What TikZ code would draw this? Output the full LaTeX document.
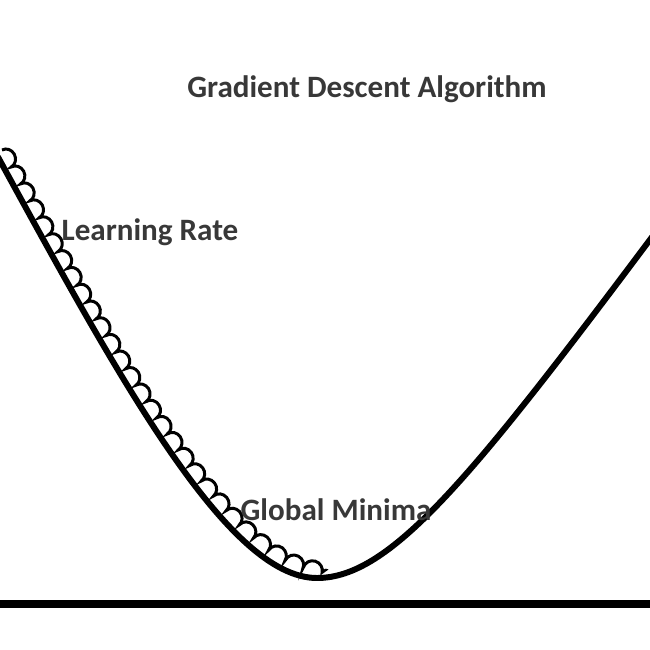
\documentclass[tikz,border=0pt]{standalone}
\usepackage{fontspec}
\setmainfont{Carlito}
\usetikzlibrary{decorations.pathmorphing}
\tikzset{
    plot-text/.style = {text=black!78, font=\bfseries\fontsize{17.7}{20}\selectfont, inner sep=0pt},
    cost-curve/.style = {line width=3.4pt, line cap=round},
    step-loops/.style = {line width=1.7pt, decorate, decoration={bumps, segment length=22pt, amplitude=5pt}},
}

\begin{document}
\begin{tikzpicture}[x=0.02cm, y=-0.02cm]
\useasboundingbox (0,0) rectangle (650,650);
\draw[line width=4pt] (0,604) -- (650,604);
\draw[cost-curve] (-2,157) .. controls (120,380) and (228,578) .. (317,578)
    .. controls (390,578) and (470,480) .. (652,237);
\draw[step-loops] (2,150) .. controls (124,372) and (232,571) .. (325,570);
\node[plot-text] (title) at (367,89) {Gradient Descent Algorithm};
\node[plot-text] (lr) at (150,232) {Learning Rate};
\node[plot-text] (gmin) at (336,510) {Global Minima};
\end{tikzpicture}
\end{document}
